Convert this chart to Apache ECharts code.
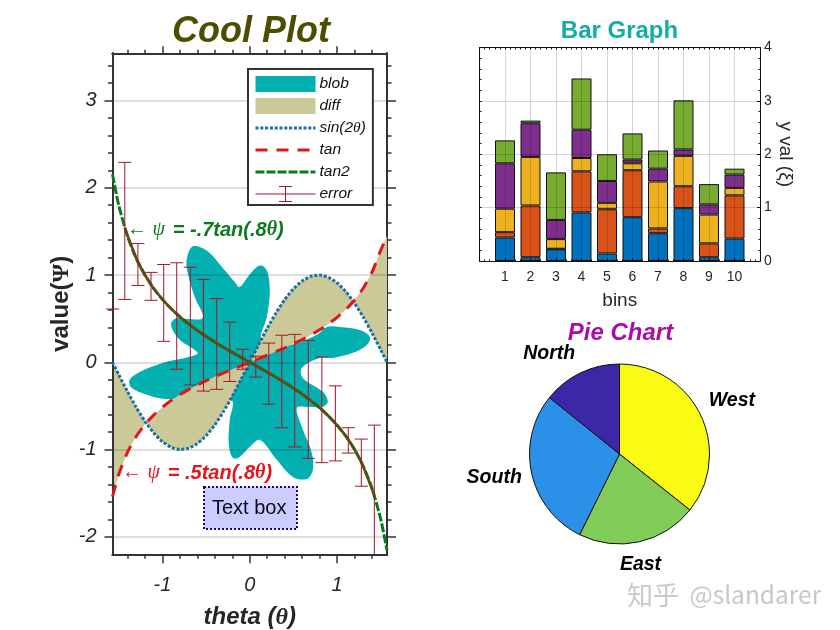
<!DOCTYPE html>
<html>
<head>
<meta charset="utf-8">
<style>html,body{margin:0;padding:0;background:#fff}#c{width:840px;height:630px}</style>
<script src="https://cdn.jsdelivr.net/npm/echarts@6/dist/echarts.min.js"></script>
</head>
<body>
<div id="c"></div>
<script>
// ---------- main plot data ----------
const theta = [-1.571,-1.5,-1.4,-1.3,-1.2,-1.1,-1,-0.9,-0.8,-0.7,-0.6,-0.5,-0.4,-0.3,-0.2,-0.1,0,0.1,0.2,0.3,0.4,0.5,0.6,0.7,0.8,0.9,1,1.1,1.2,1.3,1.4,1.5,1.571];
const sinVals = [0,-0.1411,-0.335,-0.5155,-0.6755,-0.8085,-0.9093,-0.9738,-0.9996,-0.9854,-0.932,-0.8415,-0.7174,-0.5646,-0.3894,-0.1987,0,0.1987,0.3894,0.5646,0.7174,0.8415,0.932,0.9854,0.9996,0.9738,0.9093,0.8085,0.6755,0.5155,0.335,0.1411,0];
const tanVals = [-1.5389,-1.2861,-1.033,-0.8518,-0.7142,-0.6049,-0.5148,-0.4386,-0.3723,-0.3135,-0.2603,-0.2114,-0.1657,-0.1224,-0.0807,-0.0401,0,0.0401,0.0807,0.1224,0.1657,0.2114,0.2603,0.3135,0.3723,0.4386,0.5148,0.6049,0.7142,0.8518,1.033,1.2861,1.45];
const tan2Vals = [2.1544,1.8005,1.4462,1.1925,0.9999,0.8468,0.7207,0.614,0.5212,0.4388,0.3644,0.296,0.232,0.1713,0.113,0.0561,0,-0.0561,-0.113,-0.1713,-0.232,-0.296,-0.3644,-0.4388,-0.5212,-0.614,-0.7207,-0.8468,-0.9999,-1.1925,-1.4462,-1.8005,-2.1544];
const errTheta = [-1.57,-1.43,-1.28,-1.13,-0.985,-0.836,-0.68,-0.53,-0.378,-0.229,-0.08,0.069,0.218,0.367,0.515,0.67,0.825,0.98,1.128,1.277,1.426];
const errCenter = [2.15,1.54,1.15,0.89,0.705,0.553,0.424,0.316,0.218,0.13,0.045,-0.039,-0.123,-0.212,-0.306,-0.417,-0.543,-0.7,-0.885,-1.145,-1.526];
const errHigh = [3.69,2.29,1.36,1.03,1.12,1.14,1.09,0.95,0.73,0.46,0.15,0.07,0.22,0.31,0.32,0.25,0.06,-0.27,-0.75,-0.88,-0.72];
const errLow = [0.61,0.72,0.88,0.71,0.24,-0.08,-0.26,-0.33,-0.31,-0.22,-0.08,-0.17,-0.48,-0.75,-0.97,-1.1,-1.15,-1.13,-1.04,-1.42,-2.34];
const blobTheta = [-0.722,-0.664,-0.573,-0.458,-0.309,-0.172,-0.115,-0.023,0.08,0.149,0.206,0.229,0.195,0.137,0.458,0.767,0.882,1.031,1.26,1.375,1.34,1.18,0.951,0.802,0.596,0.607,0.836,0.893,0.825,0.653,0.538,0.596,0.71,0.722,0.653,0.493,0.309,0.115,0,-0.115,-0.195,-0.241,-0.229,-0.206,-0.515,-0.859,-0.997,-1.18,-1.352,-1.375,-1.26,-0.997,-0.687,-0.596,-0.802,-0.893,-0.893,-0.825,-0.722,-0.538,-0.63,-0.71];
const blobPsi = [1.173,1.322,1.322,1.253,1.081,0.921,0.864,0.978,1.093,1.104,1.024,0.795,0.52,0.257,0.199,0.314,0.405,0.405,0.371,0.291,0.199,0.108,0.05,0.05,-0.064,-0.179,-0.339,-0.454,-0.511,-0.511,-0.522,-0.74,-1.038,-1.233,-1.336,-1.313,-1.118,-0.889,-0.969,-1.084,-1.095,-0.923,-0.66,-0.431,-0.373,-0.419,-0.419,-0.373,-0.293,-0.202,-0.11,-0.007,0.062,0.108,0.257,0.394,0.463,0.509,0.497,0.509,0.749,1.024];
const xMajor = [-1,0,1];
const xMinor = [-1.4,-1.2,-0.8,-0.6,-0.4,-0.2,0.2,0.4,0.6,0.8,1.2,1.4];
const yMajor = [-2,-1,0,1,2,3];
const yMinor = [-1.8,-1.6,-1.4,-1.2,-0.8,-0.6,-0.4,-0.2,0.2,0.4,0.6,0.8,1.2,1.4,1.6,1.8,2.2,2.4,2.6,2.8,3.2,3.4];
// ---------- bar graph data ----------
const binLabels = ['','1','2','3','4','5','6','7','8','9','10',''];
const bins = [1,2,3,4,5,6,7,8,9,10];
const barBlue = [0.44,0.07,0.22,0.91,0.14,0.82,0.52,0.99,0.07,0.42];
const barOrange = [0.10,0.97,0.01,0.77,0.83,0.88,0.09,0.41,0.26,0.81];
const barYellow = [0.44,0.91,0.18,0.25,0.12,0.13,0.88,0.57,0.54,0.14];
const barPurple = [0.85,0.63,0.36,0.53,0.41,0.07,0.24,0.12,0.19,0.25];
const barGreen = [0.43,0.05,0.89,0.96,0.50,0.49,0.34,0.92,0.38,0.11];
const barYMajor = [0,1,2,3,4];
// ---------- pie data ----------
const pieNames = ['West','East','South','North'];
const pieValues = [35.7,21.6,28.5,14.2];
const pieColors = ['#F9FB15','#81CC58','#2B90E8','#3C27A6'];
const pieLabelOffsets = [[-4,-11],[-26,15],[3,3],[3,-12]];

const FONT = 'Liberation Sans';
const SERIF = 'Liberation Serif';
const INK = '#262626';
const LEFT = 112.5, RIGHT = 387, TOP = 53.3, BOTTOM = 554.3;
const XMIN = -1.5708, XMAX = 1.5708, YMIN = -2.2, YMAX = 3.54;

function range(a, b){ const r=[]; for(let v=a; v<=b+1e-9; v=Math.round((v+0.2)*10)/10) r.push(v); return r; }
const barMinor = range(0,4);
const barXMinor = range(0,11);

function mainX(position, values, len, showLabel){
  return {type:'value', gridIndex:0, min:XMIN, max:XMAX, position, offset:0,
    axisLine:{show:true,onZero:false,lineStyle:{color:'#333',width:2}},
    axisTick:{show:true,customValues:values,length:len,inside:false,lineStyle:{color:'#333',width:1.5}},
    axisLabel:{show:showLabel,customValues:values,margin:21,fontFamily:FONT,fontStyle:'italic',fontSize:20,color:INK,formatter:v=>String(v)},
    splitLine:{show:false}};
}
function mainY(position, values, len, showLabel, grid){
  return {type:'value', gridIndex:0, min:YMIN, max:YMAX, position, offset:0, z:grid?3.5:0,
    axisLine:{show:true,onZero:false,lineStyle:{color:'#333',width:2}},
    axisTick:{show:true,customValues:values,length:len,inside:false,lineStyle:{color:'#333',width:1.5}},
    axisLabel:{show:showLabel,customValues:values,margin:16,fontFamily:FONT,fontStyle:'italic',fontSize:20,color:INK,formatter:v=>String(v)},
    splitLine:{show:grid,lineStyle:{color:'rgba(0,0,0,0.13)',width:2}}};
}
function barTicks(values, len){ return {show:true,customValues:values,length:len,inside:true,lineStyle:{color:'#111',width:1}}; }
function barX(position, values, len){
  return {type:'value', gridIndex:1, min:0, max:11, position, offset:0, z:5,
    axisLine:{show:true,onZero:false,lineStyle:{color:'#111',width:1}},
    axisTick:barTicks(values,len),
    axisLabel:{show:false},
    splitLine:{show:false}};
}
function barY(position, values, len, labels, grid){
  return {type:'value', gridIndex:1, min:0, max:4, position, offset:0, z:grid?4:5,
    axisLine:{show:true,onZero:false,lineStyle:{color:'#111',width:1}},
    axisTick:barTicks(values,len),
    axisLabel:{show:labels,customValues:barYMajor,margin:4,padding:[4,0,0,0],fontFamily:FONT,fontSize:14,color:INK,formatter:v=>String(v)},
    splitLine:{show:grid,lineStyle:{color:'rgba(0,0,0,0.16)',width:1}}};
}
const xAxes = [
  Object.assign(mainX('bottom',xMajor,9,true),{name:'theta ({t|θ})',nameLocation:'middle',nameGap:51,
    nameTextStyle:{fontFamily:FONT,fontWeight:'bold',fontStyle:'italic',fontSize:24,color:INK,rich:{t:{fontFamily:SERIF,fontStyle:'italic',fontSize:24,color:INK}}}}),
  mainX('bottom',xMinor,4.5,false),
  mainX('top',xMajor,7,false),
  mainX('top',xMinor,3.5,false),
  {type:'category',gridIndex:1,data:binLabels,boundaryGap:false,position:'bottom',z:4,
    axisLine:{show:true,onZero:false,lineStyle:{color:'#111',width:1}},
    axisTick:{show:true,length:3,inside:true,lineStyle:{color:'#111',width:1}},
    axisLabel:{show:true,interval:0,margin:9,fontFamily:FONT,fontSize:14,color:INK},
    splitLine:{show:true,interval:0,lineStyle:{color:'rgba(0,0,0,0.16)',width:1}},
    name:'bins',nameLocation:'middle',nameGap:30,nameTextStyle:{fontFamily:FONT,fontSize:19,color:INK}},
  barX('bottom',barXMinor,1.5),
  barX('top',barXMinor,2)
];
const yAxes = [
  Object.assign(mainY('left',yMajor,8,true,true),{name:'value({p|Ψ})',nameLocation:'middle',nameGap:39,nameRotate:90,
    nameTextStyle:{fontFamily:FONT,fontWeight:'bold',fontSize:24,color:INK,rich:{p:{fontFamily:SERIF,fontSize:24,color:INK}}}}),
  mainY('left',yMinor,4.5,false,false),
  mainY('right',yMajor,9,false,false),
  mainY('right',yMinor,4.5,false,false),
  Object.assign(barY('right',barYMajor,3,true,true),{name:'y val (ξ)',nameLocation:'middle',nameGap:12,nameRotate:-90,
    nameTextStyle:{fontFamily:FONT,fontSize:19,color:INK}}),
  barY('right',barMinor,1.5,false,false),
  barY('left',barMinor,2,false,false)
];
function zip(a,b){ return a.map((v,i)=>[v,b[i]]); }
function blobRender(params, api){
  if(params.dataIndex!==0) return null;
  const pts = blobTheta.map((t,i)=>api.coord([t,blobPsi[i]]));
  return {type:'polygon',shape:{points:pts,smooth:0.35},style:{fill:'#02B0B0'}};
}
function diffRender(params, api){
  if(params.dataIndex!==0) return null;
  const fw = theta.map((t,i)=>api.coord([t,tanVals[i]]));
  const bk = theta.map((t,i)=>api.coord([t,sinVals[i]])).reverse();
  return {type:'polygon',shape:{points:fw.concat(bk)},style:{fill:'#CBC998'}};
}
function errRender(params, api){
  const x = api.coord([api.value(0),0])[0];
  const lo = api.value(1), hi = api.value(2);
  const cs = params.coordSys;
  const yT = cs.y, yB = cs.y+cs.height;
  const y1 = Math.max(api.coord([0,hi])[1],yT), y2 = Math.min(api.coord([0,lo])[1],yB);
  const st = {stroke:'#A81428',lineWidth:1,fill:null};
  const kids = [];
  if(x>cs.x+2) kids.push({type:'line',shape:{x1:x,y1:y1,x2:x,y2:y2},style:st});
  if(hi<=YMAX) kids.push({type:'line',shape:{x1:x-6.5,y1:y1,x2:x+6.5,y2:y1},style:st});
  if(lo>=YMIN) kids.push({type:'line',shape:{x1:x-6.5,y1:y2,x2:x+6.5,y2:y2},style:st});
  return {type:'group',children:kids};
}
const barSeries = [[barBlue,'#0072BD'],[barOrange,'#D95319'],[barYellow,'#EDB120'],[barPurple,'#7E2F8E'],[barGreen,'#77AC30']].map((p,i)=>({
  type:'bar',name:'b'+i,xAxisIndex:4,yAxisIndex:4,stack:'bars',barWidth:20,z:2,
  data:zip(bins,p[0]),itemStyle:{color:p[1],borderColor:'#111',borderWidth:1}
}));
const legendRich = {i:{fontFamily:FONT,fontStyle:'italic',fontSize:15.5,color:'#111'},t:{fontFamily:SERIF,fontStyle:'italic',fontSize:15.5,color:'#111'}};
const hideMark = {color:'transparent',borderWidth:0};
function annoRich(c){ return {a:{fontFamily:SERIF,fontSize:20,fill:c},p:{fontFamily:SERIF,fontStyle:'italic',fontSize:20,fill:c},
  b:{fontFamily:FONT,fontWeight:'bold',fontStyle:'italic',fontSize:20,fill:c},t:{fontFamily:SERIF,fontStyle:'italic',fontWeight:'bold',fontSize:20,fill:c},s:{fontFamily:FONT,fontSize:8,fill:c}}; }
const option = {
  animation:false,
  backgroundColor:'#fff',
  textStyle:{fontFamily:FONT},
  title:[
    {text:'Cool Plot',left:251,top:14,padding:0,textAlign:'center',textStyle:{fontFamily:FONT,fontWeight:'bold',fontStyle:'italic',fontSize:36,color:'#4D4D00'}},
    {text:'Bar Graph',left:619.5,top:19,padding:0,textAlign:'center',textStyle:{fontFamily:FONT,fontWeight:'bold',fontSize:24,color:'#14ADA6'}},
    {text:'Pie Chart',left:620.5,top:321,padding:0,textAlign:'center',textStyle:{fontFamily:FONT,fontWeight:'bold',fontStyle:'italic',fontSize:24,color:'#A80FA8'}}
  ],
  grid:[
    {left:LEFT,right:840-RIGHT,top:TOP,bottom:630-BOTTOM,containLabel:false,outerBoundsMode:'none'},
    {left:479.5,right:80,top:47.5,bottom:369,containLabel:false,outerBoundsMode:'none'}
  ],
  xAxis:xAxes,
  yAxis:yAxes,
  legend:{
    left:248,top:69,orient:'vertical',itemWidth:60,itemHeight:16,itemGap:6,padding:[7,7,3,6],
    backgroundColor:'#fff',borderColor:'#333',borderWidth:2,z:20,
    data:[{name:'blob',icon:'rect'},{name:'diff',icon:'rect'},
      {name:'sin(2θ)',itemStyle:hideMark,lineStyle:{width:3}},{name:'tan',itemStyle:hideMark,lineStyle:{width:3}},{name:'tan2',itemStyle:hideMark,lineStyle:{width:3}},
      {name:'error',icon:'path://M0 7.5H60V8.5H0Z M29.5 0H30.5V16H29.5Z M23.5 0H36.5V1H23.5Z M23.5 15H36.5V16H23.5Z'}],
    formatter:n=>n==='sin(2θ)'?'{i|sin(2}{t|θ}{i|)}':'{i|'+n+'}',
    textStyle:{rich:legendRich,padding:[0,0,0,-1]},
    selectedMode:false
  },
  series:[
    {type:'custom',name:'blob',z:2,clip:true,renderItem:blobRender,data:[[0,0]],itemStyle:{color:'#02B0B0'},silent:true,xAxisIndex:0,yAxisIndex:0},
    {type:'custom',name:'diff',z:3,clip:true,renderItem:diffRender,data:[[0,0]],itemStyle:{color:'#CBC998'},silent:true,xAxisIndex:0,yAxisIndex:0},
    {type:'line',name:'sin(2θ)',z:4,data:zip(theta,sinVals),showSymbol:false,symbol:'none',smooth:0.2,
      itemStyle:{color:'#1A6FA5'},lineStyle:{color:'#1A6FA5',width:3,type:[3,1.8]},xAxisIndex:0,yAxisIndex:0},
    {type:'line',name:'tan',z:5,data:zip(theta,tanVals),showSymbol:false,symbol:'none',smooth:0.2,
      itemStyle:{color:'#E0161E'},lineStyle:{color:'#E0161E',width:3,type:[12,9]},xAxisIndex:0,yAxisIndex:0},
    {type:'line',name:'tan2',z:6,data:zip(theta,tan2Vals),showSymbol:false,symbol:'none',smooth:0.2,
      itemStyle:{color:'#0B7A1E'},lineStyle:{color:'#0B7A1E',width:3,type:[9,2]},xAxisIndex:0,yAxisIndex:0},
    {type:'line',name:'errorCore',z:7,data:zip(errTheta.slice(1),errCenter.slice(1)),showSymbol:false,symbol:'none',smooth:0.2,
      lineStyle:{color:'#5C4E12',width:2.6},xAxisIndex:0,yAxisIndex:0},
    {type:'custom',name:'error',z:8,clip:false,renderItem:errRender,itemStyle:{color:'#A81428'},silent:true,xAxisIndex:0,yAxisIndex:0,
      encode:{x:0,y:[1,2]},data:errTheta.map((t,i)=>[t,errLow[i],errHigh[i]])}
  ].concat(barSeries,[
    {type:'pie',name:'pie',center:[619.5,454],radius:[0,90],startAngle:90,clockwise:true,avoidLabelOverlap:false,silent:true,
      data:pieNames.map((n,i)=>({name:n,value:pieValues[i],itemStyle:{color:pieColors[i]},label:{offset:pieLabelOffsets[i]}})),
      itemStyle:{borderColor:'#111',borderWidth:1},
      label:{show:true,position:'outside',formatter:'{b}',fontFamily:FONT,fontWeight:'bold',fontStyle:'italic',fontSize:19.5,color:'#000'},
      labelLine:{show:false,length:8,length2:0}}
  ]),
  graphic:[
    {type:'text',z:30,left:127,top:220,style:{rich:annoRich('#0B7A1E'),text:'{a|←}{b| }{p|ψ}{s| }{b| = -.7tan(.8}{t|θ}{b|)}'}},
    {type:'text',z:30,left:122,top:463,style:{rich:annoRich('#E0161E'),text:'{a|←}{b| }{p|ψ}{s| }{b| = .5tan(.8}{t|θ}{b|)}'}},
    {type:'rect',z:30,left:203,top:486,shape:{width:93,height:42},style:{fill:'#CCCCFF',stroke:'#1E0A5A',lineWidth:2,lineDash:[2,2]}},
    {type:'text',z:31,left:212,top:498,style:{text:'Text box',fontFamily:FONT,fontSize:20,fill:'#0A0A20'}},
    {type:'text',z:40,left:627,top:582,style:{
      rich:{a:{fontFamily:'Noto Sans CJK SC',fontSize:26,fill:'#c8c8c8'},b:{fontFamily:'Noto Sans CJK SC',fontSize:24.5,fill:'#c8c8c8'},s:{fontFamily:'Noto Sans CJK SC',fontSize:16,fill:'#c8c8c8'}},
      text:'{a|知乎} {s|  }{b|@slandarer}'}}
  ]
};
echarts.init(document.getElementById('c'),null,{renderer:'canvas'}).setOption(option);
</script>
</body>
</html>
